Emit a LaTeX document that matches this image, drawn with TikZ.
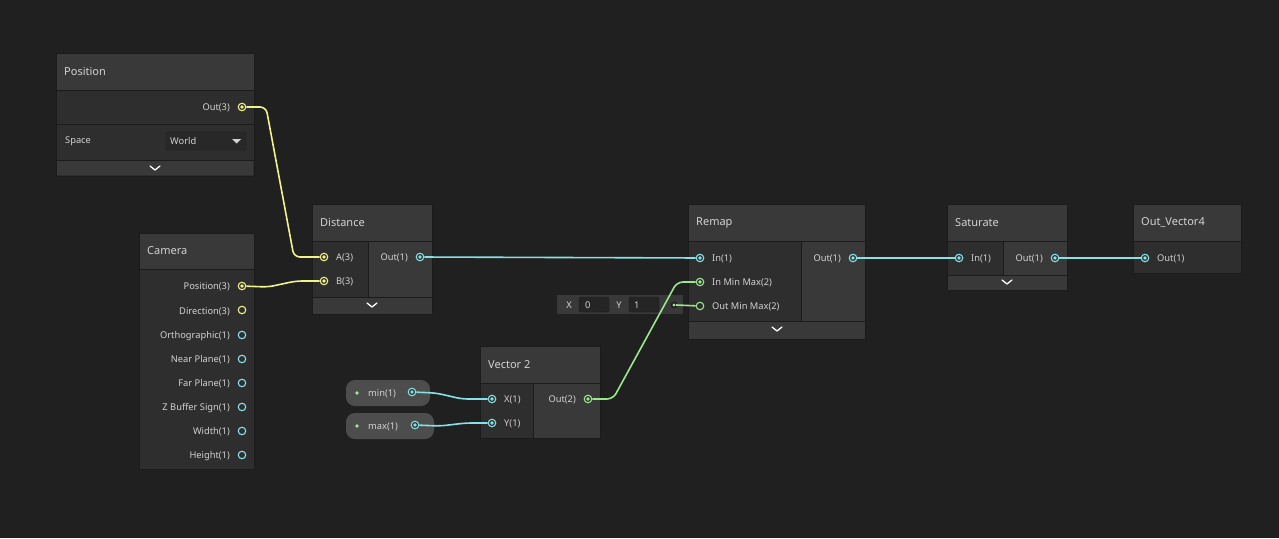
\documentclass[tikz,border=0pt]{standalone}
\usepackage{fontspec}
\setmainfont{Noto Sans}
\usetikzlibrary{calc}
\definecolor{canvas}{HTML}{202020}
\definecolor{nodebody}{HTML}{2E2E2E}
\definecolor{nodehead}{HTML}{393939}
\definecolor{nodeline}{HTML}{1B1B1B}
\definecolor{txt}{HTML}{D2D2D2}
\definecolor{vecY}{HTML}{F0F28A}
\definecolor{vecC}{HTML}{86E2E6}
\definecolor{vecG}{HTML}{9AE88C}
\newcommand{\gbox}[6]{% x1,y1,x2,yhead,y2,title
  \fill[nodebody,draw=nodeline] (#1,#2) rectangle (#3,#5);
  \fill[nodehead,draw=nodeline] (#1,#2) rectangle (#3,#4);
  \node[title] at ({#1+8},{(#2+#4)/2}) {#6};}
\newcommand{\chev}[2]{\draw[white,line width=1.3pt,line cap=round,line join=round] ({#1-5},{#2-2}) -- (#1,{#2+2}) -- ({#1+5},{#2-2});}
\begin{document}
\begin{tikzpicture}[x=1pt,y=-1pt,
  title/.style={anchor=west,text=txt,font=\fontsize{11}{12}\selectfont,inner sep=0},
  lbl/.style={text=txt,font=\fontsize{9.3}{10}\selectfont,inner sep=0},
  lblL/.style={lbl,anchor=west},
  lblR/.style={lbl,anchor=east},
  port/.style={circle,draw=#1,fill=nodebody,line width=1.1pt,minimum size=7.5pt,inner sep=0},
  full/.style={port=#1,path picture={\fill[#1] (path picture bounding box.center) circle (1.8);}},
  wire/.style={draw=#1,line width=1.6pt,rounded corners=6pt}]
\fill[canvas] (0,0) rectangle (1279,538);
\useasboundingbox (0,0) rectangle (1279,538);

% Position
\gbox{56}{53}{254}{90}{176}{Position}
\draw[nodeline] (56,124) -- (254,124) (56,160) -- (254,160);
\fill[nodehead] (57,161) rectangle (253,175);
\node[full=vecY] (posOut) at (242,107) {};
\node[lblR] at (230,108) {Out(3)};
\node[lblL] at (65,141) {Space};
\fill[black!30!nodehead,draw=nodeline,rounded corners=2pt] (166,132) rectangle (246,150);
\node[lblL] at (170,141) {World};
\fill[txt] (232,139) -- (241,139) -- (236.5,143.5) -- cycle;
\chev{155}{168}

% Camera
\gbox{139}{233}{254}{269}{469}{Camera}
\node[full=vecY] (camPos) at (242,286) {};
\node[port=vecY] (camDir) at (242,310) {};
\foreach \lab/\yy in {Orthographic(1)/335,Near Plane(1)/359,Far Plane(1)/383,Z Buffer Sign(1)/407,Width(1)/431,Height(1)/455}
  \node[port=vecC] at (242,\yy) {};
\foreach \lab/\yy in {Position(3)/287,Direction(3)/312,Orthographic(1)/336,Near Plane(1)/360,Far Plane(1)/384,Z Buffer Sign(1)/408,Width(1)/432,Height(1)/456}
  \node[lblR] at (230,\yy) {\lab};

% Distance
\gbox{312}{204}{432}{241}{314}{Distance}
\fill[nodehead,draw=nodeline] (368,241) rectangle (432,297);
\fill[nodehead,draw=nodeline] (312,297) rectangle (432,314);
\node[full=vecY] (distA) at (324,257) {};
\node[full=vecY] (distB) at (324,281) {};
\node[lblL] at (336,258) {A(3)};
\node[lblL] at (336,282) {B(3)};
\node[full=vecC] (distOut) at (420,257) {};
\node[lblR] at (408,258) {Out(1)};
\chev{372}{305}

% Remap
\gbox{688}{204}{865}{241}{339}{Remap}
\fill[nodehead,draw=nodeline] (801,241) rectangle (865,321);
\fill[nodehead,draw=nodeline] (688,321) rectangle (865,339);
\node[full=vecC] (remIn) at (700,258) {};
\node[full=vecG] (remInMM) at (700,282) {};
\node[port=vecG] (remOutMM) at (700,306) {};
\node[lblL] at (712,259) {In(1)};
\node[lblL] at (712,283) {In Min Max(2)};
\node[lblL] at (712,307) {Out Min Max(2)};
\node[full=vecC] (remOut) at (853,258) {};
\node[lblR] at (841,259) {Out(1)};
\chev{777}{329}

% inline value
\fill[nodehead] (557,295) rectangle (683,314);
\fill[canvas!80!nodehead,draw=nodeline,rounded corners=2pt] (579,297) rectangle (609,312);
\fill[canvas!80!nodehead,draw=nodeline,rounded corners=2pt] (629,297) rectangle (659,312);
\node[lbl] at (569,305) {X};
\node[lblL] at (585,305) {0};
\node[lbl] at (619,305) {Y};
\node[lblL] at (634,305) {1};
\fill[canvas] (674,305) circle (3.5);
\fill[vecG] (674,305) circle (1.6);
\coordinate (inlineDot) at (676,305);

% Saturate
\gbox{947}{204}{1067}{241}{290}{Saturate}
\fill[nodehead,draw=nodeline] (1003,241) rectangle (1067,275);
\fill[nodehead,draw=nodeline] (947,275) rectangle (1067,290);
\node[full=vecC] (satIn) at (959,258) {};
\node[lblL] at (971,259) {In(1)};
\node[full=vecC] (satOut) at (1055,258) {};
\node[lblR] at (1043,259) {Out(1)};
\chev{1007}{282}

% Out_Vector4
\gbox{1133}{204}{1241}{241}{273}{Out\_Vector4}
\node[full=vecC] (outIn) at (1145,258) {};
\node[lblL] at (1157,259) {Out(1)};

% Vector 2
\gbox{480}{346}{600}{383}{438}{Vector 2}
\fill[nodehead,draw=nodeline] (533,383) rectangle (600,438);
\node[full=vecC] (vecX) at (492,399) {};
\node[full=vecC] (vecYin) at (492,423) {};
\node[lblL] at (504,400) {X(1)};
\node[lblL] at (504,424) {Y(1)};
\node[full=vecG] (vecOut) at (588,399) {};
\node[lblR] at (576,400) {Out(2)};

% properties
\fill[nodehead!90!white,rounded corners=9pt] (346,380) rectangle (430,406);
\fill[nodehead!90!white,rounded corners=9pt] (346,413) rectangle (434,439);
\fill[vecG] (357,393) circle (1.8);
\fill[vecG] (357,426) circle (1.8);
\node[lblL] at (368,394) {min(1)};
\node[lblL] at (368,427) {max(1)};
\node[full=vecC] (minOut) at (412,392) {};
\node[full=vecC] (maxOut) at (415,425) {};

% wires
\draw[wire=vecY] (posOut) -- (266,107) -- (294,257) -- (distA);
\draw[wire=vecY] (camPos) -- (268,287) -- (296,281) -- (distB);
\draw[wire=vecC] (distOut) -- (remIn);
\draw[wire=vecC] (remOut) -- (satIn);
\draw[wire=vecC] (satOut) -- (outIn);
\draw[wire=vecC] (minOut) -- (436,393) -- (462,399) -- (vecX);
\draw[wire=vecC] (maxOut) -- (440,426) -- (466,423) -- (vecYin);
\draw[wire=vecG] (vecOut) -- (613,399) -- (677,282) -- (remInMM);
\draw[wire=vecG] (inlineDot) -- (remOutMM);
\end{tikzpicture}
\end{document}
